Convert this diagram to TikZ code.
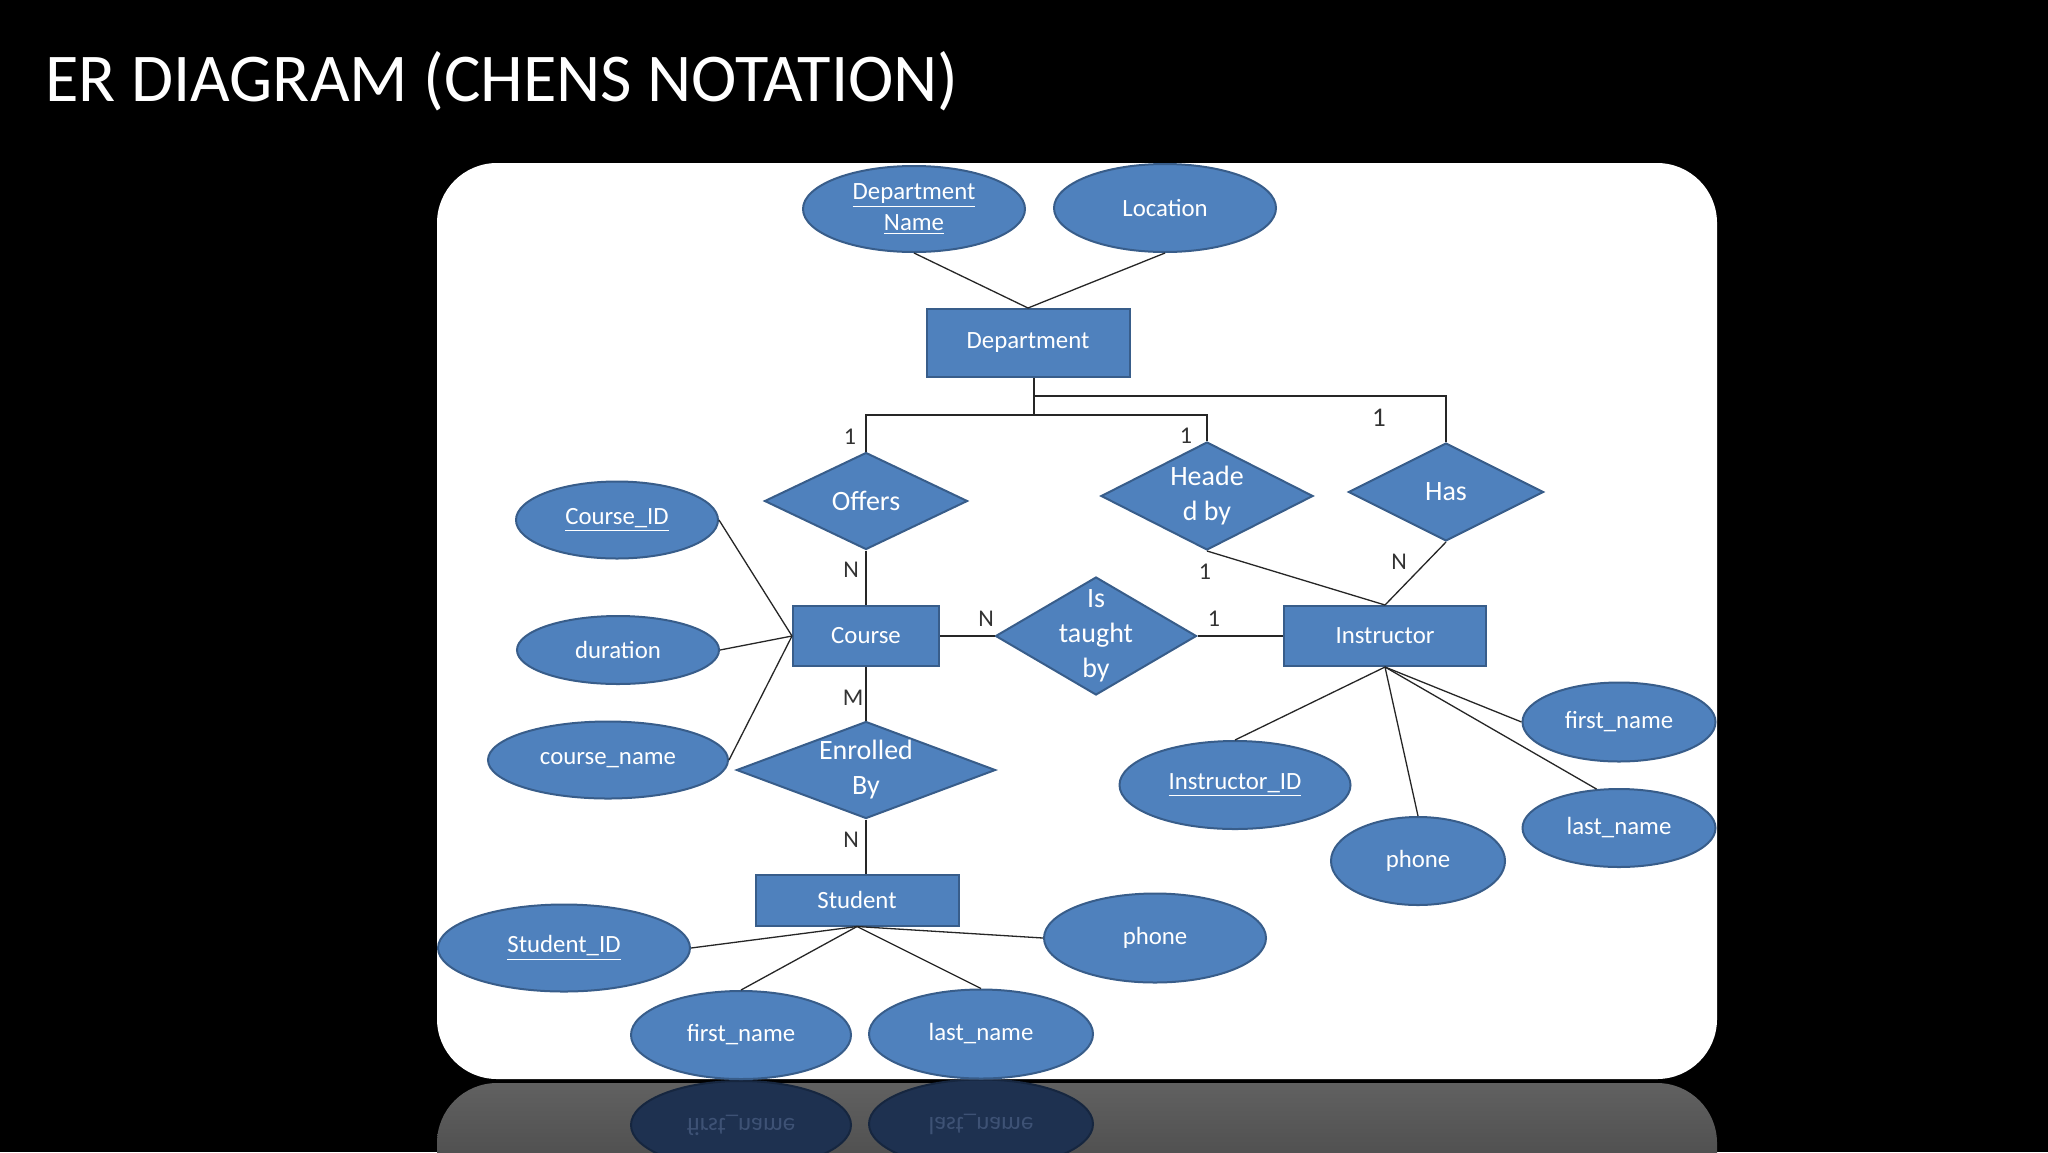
\documentclass[tikz,border=0pt]{standalone}
\usepackage{fontspec}
\setmainfont{Carlito}
\usetikzlibrary{shapes.geometric}
\definecolor{erblue}{HTML}{4F81BD}
\definecolor{erline}{HTML}{385D8A}
\definecolor{refblue}{HTML}{1E3150}
\definecolor{refline}{HTML}{16263F}
\definecolor{reftext}{HTML}{3E5275}
\begin{document}
\begin{tikzpicture}[x=0.5pt,y=-0.5pt,
  attr/.style={ellipse, fill=erblue, draw=erline, line width=1pt, inner sep=0pt, text=white, align=center, font=\fontsize{12.4}{15.6}\selectfont},
  ent/.style={rectangle, fill=erblue, draw=erline, line width=1pt, inner sep=0pt, text=white, font=\fontsize{12.4}{15}\selectfont},
  rel/.style={diamond, fill=erblue, draw=erline, line width=1pt, inner sep=0pt},
  reltext/.style={text=white, align=center, inner sep=0pt, font=\fontsize{14}{17.5}\selectfont},
  conn/.style={draw=black!85, line width=0.65pt},
  card/.style={text=black!80, inner sep=0pt, font=\fontsize{12}{14}\selectfont},
  refl/.style={ellipse, fill=refblue, draw=refline, line width=1pt, inner sep=0pt, text=reftext, font=\fontsize{12.4}{15}\selectfont},
]
% background
\fill[black] (0,0) rectangle (2048,1152);
\useasboundingbox (0,0) rectangle (2048,1152);

% title
\node[anchor=base west, inner sep=0pt, text=white, font=\fontsize{34.2}{38}\selectfont] (title) at (45,101) {ER DIAGRAM (CHENS NOTATION)};

% reflection
\begin{scope}
  \clip (0,0) rectangle (2048,1152);
  \shade[top color=black!62, bottom color=black!78, rounded corners=30pt] (437,1083) rectangle (1717,1260);
  \node[refl, minimum width=110pt, minimum height=44pt] (rsfn) at (741,1125) {};
  \node[refl, minimum width=112pt, minimum height=44.5pt] (rsln) at (981,1124) {};
  \begin{scope}[shift={(741,1125)}]
    \node[yscale=-1, transform shape, text=reftext, inner sep=0pt, font=\fontsize{12.4}{15}\selectfont] (rsfntext) at (0,0) {first\_name};
  \end{scope}
  \begin{scope}[shift={(981,1124)}]
    \node[yscale=-1, transform shape, text=reftext, inner sep=0pt, font=\fontsize{12.4}{15}\selectfont] (rslntext) at (0,0) {last\_name};
  \end{scope}
\end{scope}

% white panel
\fill[white, rounded corners=30pt] (437,163) rectangle (1717,1079);

% entities and attributes
\node[attr, minimum width=111pt, minimum height=43pt] (deptname) at (914,209) {\underline{Department}\\\underline{Name}};
\node[attr, minimum width=111pt, minimum height=44pt] (location) at (1165,208) {Location};
\node[ent, minimum width=101.5pt, minimum height=34pt] (dept) at (1028,343) {Department};

\node[rel, minimum width=101.5pt, minimum height=48.5pt, label={[reltext]center:Offers}] (offers) at (866,501) {};
\node[rel, minimum width=106pt, minimum height=54pt, label={[reltext]center:Heade\\d by}] (headed) at (1207,496) {};
\node[rel, minimum width=97.5pt, minimum height=49pt, label={[reltext]center:Has}] (has) at (1446,492) {};

\node[attr, minimum width=101pt, minimum height=38.5pt] (cid) at (617,520) {\underline{Course\_ID}};
\node[attr, minimum width=101pt, minimum height=34pt] (dur) at (618,650) {duration};
\node[attr, minimum width=120pt, minimum height=38.5pt] (cname) at (608,760) {course\_name};
\node[ent, minimum width=73pt, minimum height=30pt] (course) at (866,636) {Course};

\node[rel, minimum width=100.5pt, minimum height=59pt, label={[reltext]center:Is\\taught\\by}] (taught) at (1096,636) {};
\node[ent, minimum width=101pt, minimum height=30pt] (instr) at (1385,636) {Instructor};

\node[rel, minimum width=129.5pt, minimum height=48.5pt, label={[reltext]center:Enrolled\\By}] (enrolled) at (866,770) {};
\node[ent, minimum width=101.5pt, minimum height=25.5pt] (student) at (857,900) {Student};

\node[attr, minimum width=126pt, minimum height=43.5pt] (sid) at (564,948) {\underline{Student\_ID}};
\node[attr, minimum width=110pt, minimum height=44pt] (sfn) at (741,1035) {first\_name};
\node[attr, minimum width=112pt, minimum height=44.5pt] (sln) at (981,1034) {last\_name};
\node[attr, minimum width=111pt, minimum height=44.5pt] (sph) at (1155,938) {phone};

\node[attr, minimum width=115.5pt, minimum height=44pt] (iid) at (1235,785) {\underline{Instructor\_ID}};
\node[attr, minimum width=87pt, minimum height=44pt] (iph) at (1418,861) {phone};
\node[attr, minimum width=96.5pt, minimum height=39.5pt] (ifn) at (1619,722) {first\_name};
\node[attr, minimum width=96.5pt, minimum height=39pt] (iln) at (1619,828) {last\_name};

% connectors
\draw[conn] (deptname.south) -- (dept.north);
\draw[conn] (location.south) -- (dept.north);
\coordinate (tA) at (1034,396);
\coordinate (tB) at (1034,415);
\draw[conn] ([xshift=3pt]dept.south) -- (tB);
\draw[conn] (tA) -| (has.north);
\draw[conn] (offers.north) |- (tB);
\draw[conn] (tB) -| (headed.north);

\draw[conn] (cid.east) -- (course.west);
\draw[conn] (dur.east) -- (course.west);
\draw[conn] (cname.east) -- (course.west);
\draw[conn] (offers.south) -- (course.north);
\draw[conn] (course.south) -- (enrolled.north);
\draw[conn] (enrolled.south) -- (enrolled.south |- student.north);
\draw[conn] (course.east) -- (taught.west);
\draw[conn] (taught.east) -- (instr.west);
\draw[conn] (headed.south) -- (instr.north);
\draw[conn] (has.south) -- (instr.north);

\draw[conn] (student.south) -- (sid.east);
\draw[conn] (student.south) -- (sfn.north);
\draw[conn] (student.south) -- (sln.north);
\draw[conn] (student.south) -- (sph.west);

\draw[conn] (instr.south) -- (iid.north);
\draw[conn] (instr.south) -- (iph.north);
\draw[conn] (instr.south) -- (ifn.west);
\draw[conn] (instr.south) -- (iln.120);

% cardinalities
\node[card] (c1) at (850,437) {1};
\node[card] (c2) at (1186,436) {1};
\node[card, font=\fontsize{13.5}{16}\selectfont] (c3) at (1379,418) {1};
\node[card] (c4) at (851,570) {N};
\node[card] (c5) at (853,698) {M};
\node[card] (c6) at (851,840) {N};
\node[card] (c7) at (986,619) {N};
\node[card] (c8) at (1214,619) {1};
\node[card] (c9) at (1205,572) {1};
\node[card] (c10) at (1399,562) {N};
\end{tikzpicture}
\end{document}
